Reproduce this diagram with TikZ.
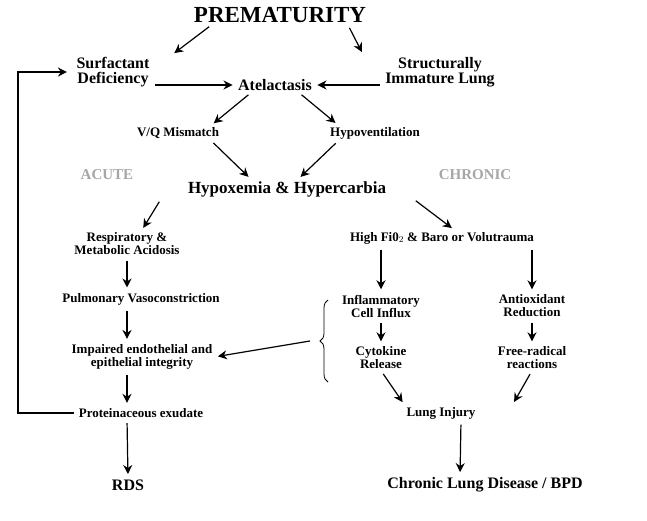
\documentclass[tikz,border=0pt]{standalone}
\usepackage{fontspec}
\setmainfont{Liberation Serif}
\usetikzlibrary{arrows.meta,decorations.pathreplacing}

\begin{document}
\begin{tikzpicture}
[x=1pt, y=-1pt, line width=1.2pt, >={Stealth[length=9pt,width=9pt]},
big/.style={font=\bfseries\fontsize{16}{15}\selectfont, align=center, inner sep=1pt},
small/.style={font=\bfseries\fontsize{13}{13}\selectfont, align=center, inner sep=1pt},
side/.style={font=\bfseries\fontsize{15}{15}\selectfont, text=gray!70, inner sep=1pt},
arr/.style={->, shorten <=4pt, shorten >=4pt}]

\useasboundingbox (0,0) rectangle (647,520);

\node[font=\bfseries\fontsize{23}{23}\selectfont, inner sep=1pt] (prem) at (280,15) {PREMATURITY};
\node[big] (surf) at (113,72) {Surfactant\\Deficiency};
\node[big] (atel) at (275,85) {Atelactasis};
\node[big] (struct) at (440,72) {Structurally\\Immature Lung};
\node[small] (vq) at (178,133) {V/Q Mismatch};
\node[small] (hypo) at (375,133) {Hypoventilation};
\node[side] (acute) at (107,175) {ACUTE};
\node[side] (chron) at (475,175) {CHRONIC};
\node[font=\bfseries\fontsize{17}{17}\selectfont, inner sep=1pt] (hypox) at (287,189) {Hypoxemia \& Hypercarbia};

\node[small] (resp) at (127,244) {Respiratory \&\\Metabolic Acidosis};
\node[small] (high) at (442,238) {High Fi0$_2$ \& Baro or Volutrauma};
\node[small] (pulm) at (141,299) {Pulmonary Vasoconstriction};
\node[small] (inflam) at (381,306) {Inflammatory\\Cell Influx};
\node[small] (antiox) at (532,306) {Antioxidant\\Reduction};
\node[small] (imp) at (142,357) {Impaired endothelial and\\epithelial integrity};
\node[small] (cyto) at (381,358) {Cytokine\\Release};
\node[small] (free) at (532,358) {Free-radical\\reactions};
\node[small] (prot) at (141,413) {Proteinaceous exudate};
\node[small] (lung) at (441,413) {Lung Injury};
\node[big] (rds) at (128,485) {RDS};
\node[big] (cld) at (485,485) {Chronic Lung Disease / BPD};

% brace round the chronic branch
\draw[line width=0.8pt, decorate, decoration={brace, amplitude=8pt}]
  (328,382) -- (328,300) coordinate[midway] (brace);
\coordinate (bracetip) at (310,341);

\draw[arr] ([xshift=20]prem.south west) -- ([xshift=20]surf.north east);
\draw[arr] ([xshift=-20]prem.south east) -- ([xshift=-20]struct.north west);
\draw[arr] (surf.east|-atel.west) -- (atel.west);
\draw[arr] (struct.west|-atel.east) -- (atel.east);
\draw[arr] ([xshift=15]atel.south west) -- ([xshift=-10]vq.north east);
\draw[arr] ([xshift=-15]atel.south east) -- ([xshift=10]hypo.north west);
\draw[arr] ([xshift=-10]vq.south east) -- ([xshift=65]hypox.north west);
\draw[arr] ([xshift=10]hypo.south west) -- ([xshift=-90]hypox.north east);
\draw[arr] ([xshift=-25]hypox.south west) -- ([xshift=-40]resp.north east);
\draw[arr] ([xshift=25]hypox.south east) -- ([xshift=13]high.north);
\draw[arr] (resp) -- (pulm.north-|resp);
\draw[arr] (inflam.north|-high.south) -- (inflam.north);
\draw[arr] (antiox.north|-high.south) -- (antiox.north);
\draw[arr] (pulm.south-|resp) -- (imp.north-|resp);
\draw[arr] (inflam) -- (cyto);
\draw[arr] (antiox) -- (free);
\draw[arr, shorten <=0pt] (bracetip) -- (imp.east);
\draw[arr] (imp.south-|resp) -- (prot.north-|resp);
\draw[arr] (cyto.south) -- (lung.north west);
\draw[arr] (free.south) -- ([xshift=35]lung.north east);
\draw[arr] (prot.south-|resp) -- (rds.north);
\draw[arr] ([xshift=20]lung.south) -- ([xshift=-25]cld.north);
\draw[->, shorten <=3pt, shorten >=8pt] (prot.west) -| (18,72) -- (surf.west);

\end{tikzpicture}
\end{document}
